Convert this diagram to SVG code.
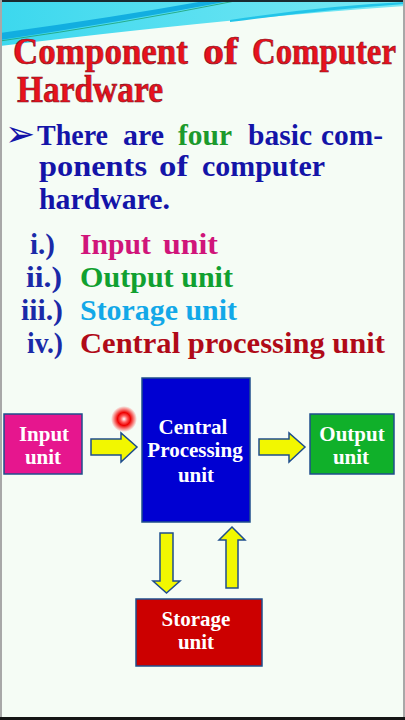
<svg xmlns="http://www.w3.org/2000/svg" width="405" height="720" viewBox="0 0 405 720">
<style>
.ser{font-family:"Liberation Serif","Times New Roman",serif;font-weight:bold}
.title{font-size:38px;fill:#e8121c;stroke:#7a1020;stroke-width:0.6}
.blue{font-size:30px;fill:#1414a8}
.green{fill:#1c9a2c}
.item{font-size:29px}
.num{fill:#1a2aa8}
.box{stroke:#1f4e8c;stroke-width:1.5}
.lbl{font-size:21px;fill:#ffffff;text-anchor:middle}
.arrow{fill:#f2f700;stroke:#1f4e8c;stroke-width:1.5;stroke-linejoin:miter}
</style>
<defs>
<linearGradient id="sw" x1="0" y1="0" x2="1" y2="0">
<stop offset="0" stop-color="#3cd8ee"/>
<stop offset="1" stop-color="#7ae8f4"/>
</linearGradient>
<radialGradient id="dot">
<stop offset="0" stop-color="#ffffff"/>
<stop offset="0.25" stop-color="#ff6060"/>
<stop offset="0.5" stop-color="#ee0000"/>
<stop offset="1" stop-color="#ff0000" stop-opacity="0"/>
</radialGradient>
</defs>
<rect x="0" y="0" width="405" height="720" fill="#f5fcf5"/>
<g id="swoosh">
<path d="M0,0 H405 V6 Q230,18 0,46 Z" fill="url(#sw)"/>
<path d="M0,40 Q120,22 235,0 H210 Q110,18 0,33 Z" fill="#12aee0"/>
<path d="M0,41 Q120,24 235,1" fill="none" stroke="#1ca070" stroke-width="0.8"/>
<path d="M230,22 Q320,10 405,4 V2 Q320,6 230,20 Z" fill="#22c4e8"/>
<rect x="0" y="0" width="405" height="2" fill="#1a2a30"/>
</g>
<rect x="0" y="0" width="2" height="720" fill="#a8a8a8"/>
<rect x="403" y="0" width="2" height="720" fill="#a8a8a8"/>
<rect x="0" y="717" width="405" height="3" fill="#151515"/>
<g id="title" class="ser title">
<text x="13" y="64" textLength="175" lengthAdjust="spacingAndGlyphs">Component</text>
<text x="203" y="64" textLength="35" lengthAdjust="spacingAndGlyphs">of</text>
<text x="252" y="64" textLength="144" lengthAdjust="spacingAndGlyphs">Computer</text>
<text x="17" y="102" textLength="146" lengthAdjust="spacingAndGlyphs">Hardware</text>
</g>
<g id="bullet" class="ser blue">
<text x="5" y="146" style="font-family:'DejaVu Sans',sans-serif;font-size:36px;font-weight:bold" fill="#1414a8">➢</text>
<text x="37" y="145" textLength="71" lengthAdjust="spacingAndGlyphs">There</text>
<text x="123" y="145" textLength="41" lengthAdjust="spacingAndGlyphs">are</text>
<text x="178" y="145" textLength="54" lengthAdjust="spacingAndGlyphs" class="green">four</text>
<text x="248" y="145" textLength="64" lengthAdjust="spacingAndGlyphs">basic</text>
<text x="321" y="145" textLength="62" lengthAdjust="spacingAndGlyphs">com-</text>
<text x="39" y="176" textLength="108" lengthAdjust="spacingAndGlyphs">ponents</text>
<text x="159" y="176" textLength="29" lengthAdjust="spacingAndGlyphs">of</text>
<text x="202" y="176" textLength="123" lengthAdjust="spacingAndGlyphs">computer</text>
<text x="39" y="209" textLength="131" lengthAdjust="spacingAndGlyphs">hardware.</text>
</g>
<g id="list" class="ser item">
<text x="30" y="254" class="num" textLength="25" lengthAdjust="spacingAndGlyphs">i.)</text>
<text x="80" y="254" fill="#d0157a" textLength="71" lengthAdjust="spacingAndGlyphs">Input</text>
<text x="163" y="254" fill="#d0157a" textLength="55" lengthAdjust="spacingAndGlyphs">unit</text>
<text x="26" y="287" class="num" textLength="36" lengthAdjust="spacingAndGlyphs">ii.)</text>
<text x="80" y="287" fill="#10a030" textLength="153" lengthAdjust="spacingAndGlyphs">Output unit</text>
<text x="21" y="320" class="num" textLength="42" lengthAdjust="spacingAndGlyphs">iii.)</text>
<text x="80" y="320" fill="#12a8e8" textLength="157" lengthAdjust="spacingAndGlyphs">Storage unit</text>
<text x="27" y="353" class="num" textLength="36" lengthAdjust="spacingAndGlyphs">iv.)</text>
<text x="80" y="353" fill="#b00a18" textLength="305" lengthAdjust="spacingAndGlyphs">Central processing unit</text>
</g>
<g id="connectors">
<path class="arrow" d="M91,439 H121 V433 L137,447 L121,462 V455 H91 Z"/>
<path class="arrow" d="M259,439 H289 V433 L305,447 L289,462 V455 H259 Z"/>
<path class="arrow" d="M160,533 H173 V581 H180 L166.5,593 L153,581 H160 Z"/>
<path class="arrow" d="M226,588 V540 H219 L232,527 L245,540 H238 V588 Z"/>
</g>
<g id="input">
<rect class="box" x="4" y="414" width="78" height="60" fill="#e6168e"/>
<text class="ser lbl" x="44" y="441">Input</text>
<text class="ser lbl" x="43" y="464">unit</text>
</g>
<g id="cpu">
<rect class="box" x="142" y="378" width="108" height="144" fill="#0000d2"/>
<text class="ser lbl" x="193" y="434">Central</text>
<text class="ser lbl" x="195" y="457">Processing</text>
<text class="ser lbl" x="196" y="482">unit</text>
</g>
<g id="output">
<rect class="box" x="310" y="414" width="84" height="60" fill="#10b02a"/>
<text class="ser lbl" x="352" y="441">Output</text>
<text class="ser lbl" x="351" y="464">unit</text>
</g>
<g id="storage">
<rect class="box" x="136" y="599" width="126" height="67" fill="#cc0000"/>
<text class="ser lbl" x="196" y="626">Storage</text>
<text class="ser lbl" x="196" y="649">unit</text>
</g>
<circle cx="124" cy="419" r="13" fill="url(#dot)"/>
</svg>
